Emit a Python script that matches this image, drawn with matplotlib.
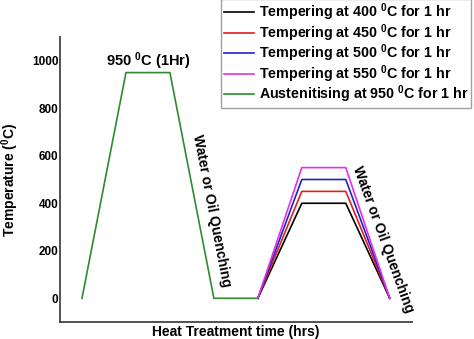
import matplotlib
matplotlib.use('Agg')
import matplotlib.pyplot as plt

plt.rcParams['font.family'] = ['Liberation Sans', 'DejaVu Sans']
plt.rcParams['font.weight'] = 'bold'
plt.rcParams['mathtext.fontset'] = 'custom'
plt.rcParams['mathtext.rm'] = 'Liberation Sans:bold'
plt.rcParams['mathtext.bf'] = 'Liberation Sans:bold'
plt.rcParams['mathtext.default'] = 'bf'

# time steps (arbitrary hrs units, evenly spaced) and temperatures
aus_time = [0, 1, 2, 3, 4]
aus_temp = [0, 950, 950, 0, 0]
temper_time = [4, 5, 6, 7]
temper_levels = [400, 450, 500, 550]
temper_colors = ['black', '#e0201c', '#2020c8', '#e030e8']
aus_color = '#2e8b2e'


def main():
    fig = plt.figure(figsize=(4.74, 3.39), dpi=100)
    ax = fig.add_axes([0.1266, 0.050, 0.742, 0.841])

    handles = []
    for level, color in zip(temper_levels, temper_colors):
        temps = [0, level, level, 0]
        h, = ax.plot(temper_time, temps, lw=1.2, color=color,
                     label=f'Tempering at {level} $^0$C for 1 hr')
        handles.append(h)
    h, = ax.plot(aus_time, aus_temp, lw=1.2, color=aus_color,
                 label='Austenitising at 950 $^0$C for 1 hr')
    handles.append(h)

    ax.set_xlim(-0.5, 7.5)
    ax.set_ylim(-100, 1100)
    ax.set_xticks([])
    ax.set_yticks([0, 200, 400, 600, 800, 1000])
    ax.tick_params(axis='y', length=0, pad=1, labelsize=8.5)
    for lbl in ax.get_yticklabels():
        lbl.set_fontweight('bold')
    ax.spines['top'].set_visible(False)
    ax.spines['right'].set_visible(False)
    ax.spines['left'].set_color('#444444')
    ax.spines['bottom'].set_color('#444444')
    ax.spines['left'].set_linewidth(1.3)
    ax.spines['bottom'].set_linewidth(1.3)

    ax.set_ylabel('Temperature ($^0$C)', fontsize=10, fontweight='bold', labelpad=8)
    ax.set_xlabel('Heat Treatment time (hrs)', fontsize=10, fontweight='bold', labelpad=2)

    ax.text(1.5, 1000, '950 $^0$C (1Hr)', ha='center', va='center',
            fontsize=10.5, fontweight='bold')
    ax.text(2.95, 370, 'Water or Oil Quenching', ha='center', va='center',
            rotation=-79, fontsize=10, fontweight='bold')
    ax.text(6.84, 248, 'Water or Oil Quenching', ha='center', va='center',
            rotation=-70, fontsize=10, fontweight='bold')

    leg = fig.legend(handles=handles, loc='upper left',
                     bbox_to_anchor=(0.466, 1.003), bbox_transform=fig.transFigure,
                     fontsize=10.3, frameon=True, fancybox=False, borderaxespad=0,
                     handlelength=2.1, handletextpad=0.35, labelspacing=-0.08,
                     borderpad=0.2)
    leg.get_frame().set_edgecolor('#888888')
    leg.get_frame().set_linewidth(1.0)
    for t in leg.get_texts():
        t.set_fontweight('bold')

    fig.savefig('out.png', dpi=100)


if __name__ == '__main__':
    main()
